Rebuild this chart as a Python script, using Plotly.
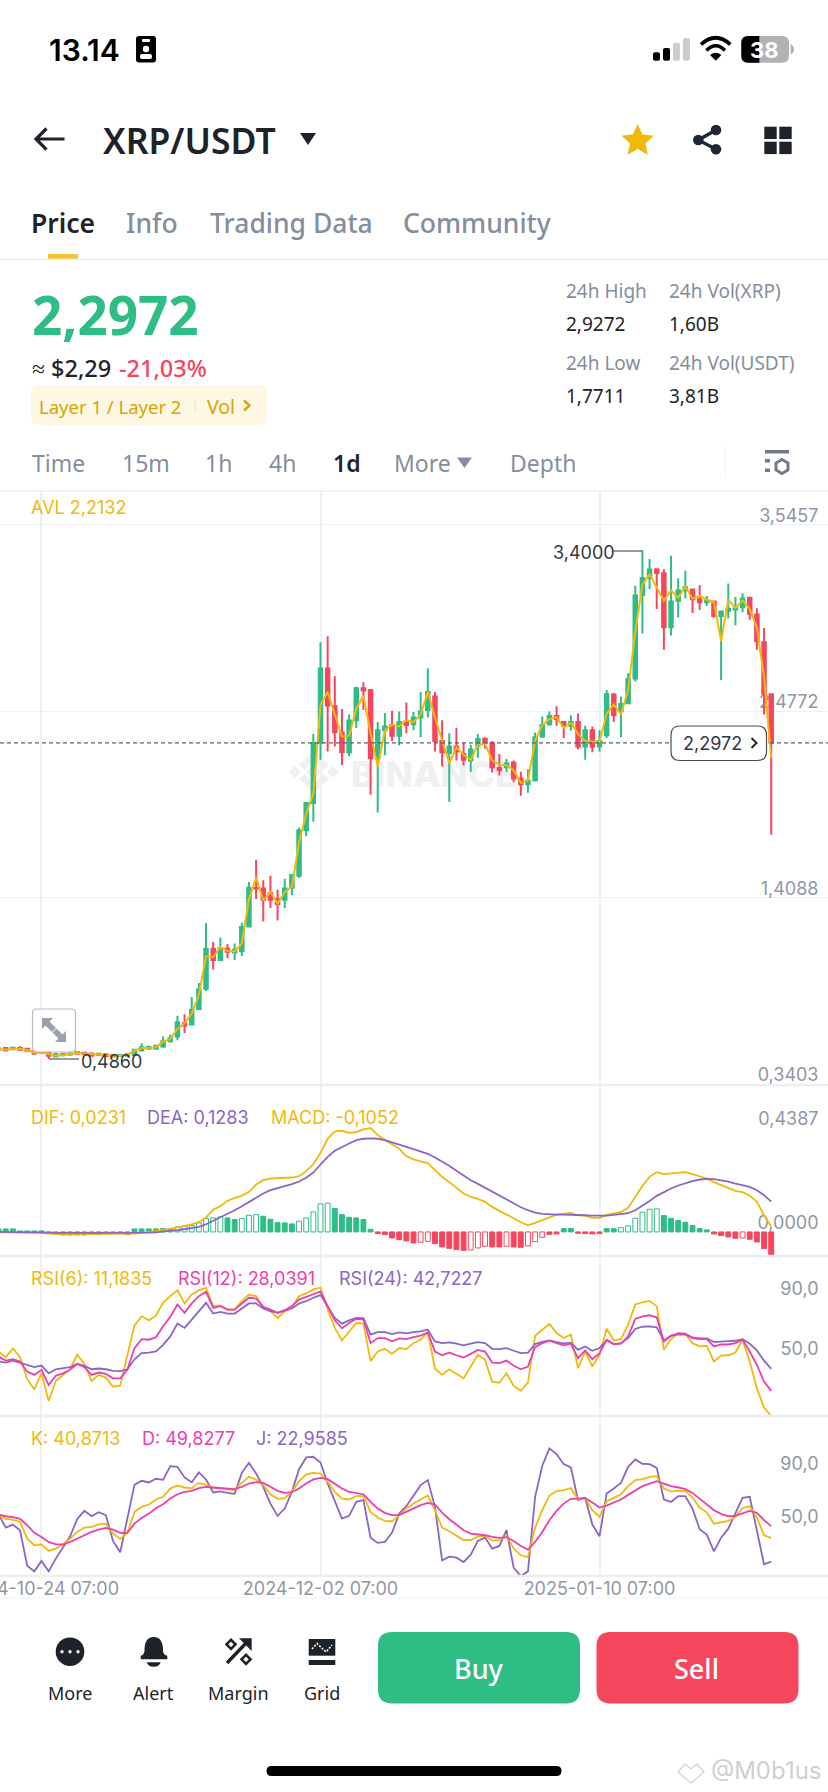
"""XRP/USDT daily chart screen with MACD, RSI and KDJ panels."""
import re

import pandas as pd
import plotly.graph_objects as go
from plotly.subplots import make_subplots

WIDTH = 828
HEIGHT = 1792

GREEN = "#2ebd85"
RED = "#f6465d"
YELLOW = "#f0b90b"
PINK = "#ec3fae"
PURPLE = "#8a66c4"
DARK = "#1e2329"
GREY = "#848e9c"
CHART_GREY = "#8f97a3"
GRID = "#eff0f3"
UI_FONT = "Noto Sans"
CHART_FONT = "Inter"

dates = pd.date_range("2024-10-18 07:00", periods=109, freq="D")
x_range = ["2024-10-18 11:48", "2025-02-11 05:34"]
date_ticks = ["2024-10-24 07:00", "2024-12-02 07:00", "2025-01-10 07:00"]

opens = [
    .5402, .5489, .5424, .5489, .5446, .5338, .5230, .5230, .5014, .5079, .5122, .5252, .5230, .5187, .5101, .5144,
    .5101, .5036, .5058, .5101, .5359, .5446, .5446, .5575, .5876, .6157, .6912, .6847, .7731, .8895, 1.1180, 1.0534,
    1.1180, 1.0965, 1.1030, 1.2453, 1.4673, 1.4630, 1.4372, 1.4026, 1.3983, 1.4673, 1.5363, 1.7972, 1.9524, 2.2974,
    2.7221, 2.5065, 2.3556, 2.2435, 2.4267, 2.6100, 2.5992, 2.2090, 2.3685, 2.3987, 2.3383, 2.4203, 2.4030, 2.4418,
    2.4849, 2.5626, 2.3082, 2.2392, 2.2758, 2.2327, 2.1961, 2.2823, 2.3211, 2.2952, 2.1529, 2.1572, 2.1831, 2.0926,
    2.0602, 2.0818, 2.3340, 2.4030, 2.4505, 2.4160, 2.3944, 2.4160, 2.2758, 2.3685, 2.2758, 2.3405, 2.5734, 2.4806,
    2.5238, 2.6661, 3.1447, 3.2417, 3.2913, 3.2676, 2.9593, 3.1102, 3.1706, 3.1749, 3.1188, 3.1016, 3.1059, 3.0240,
    3.0541, 3.0606, 3.0735, 3.1274, 3.0326, 2.8730, 2.5755,
]
highs = [
    .5511, .5532, .5553, .5597, .5489, .5402, .5338, .5359, .5230, .5230, .5273, .5295, .5273, .5230, .5230, .5187,
    .5144, .5144, .5187, .5446, .5769, .5618, .5683, .6157, .6265, .7342, .7430, .8421, .9219, 1.2647, 1.1569, 1.1827,
    1.1439, 1.1483, 1.2668, 1.4997, 1.6269, 1.5104, 1.5364, 1.4565, 1.5191, 1.5428, 1.8123, 1.9567, 2.3470, 2.8730,
    2.9075, 2.6790, 2.4914, 2.4591, 2.6186, 2.6445, 2.6035, 2.4160, 2.4677, 2.4806, 2.4763, 2.5281, 2.4742, 2.5884,
    2.7243, 2.5884, 2.4267, 2.3513, 2.3836, 2.2974, 2.2866, 2.3470, 2.3297, 2.3082, 2.2327, 2.2047, 2.1961, 2.1314,
    2.1465, 2.3556, 2.4483, 2.4763, 2.5065, 2.4203, 2.4548, 2.4655, 2.3944, 2.3901, 2.3685, 2.5992, 2.5820, 2.5626,
    2.6962, 3.1964, 3.4000, 3.3495, 3.2956, 3.2913, 3.3689, 3.2396, 3.2827, 3.1813, 3.2007, 3.1382, 3.1102, 3.0520,
    3.2094, 3.1318, 3.1533, 3.1318, 3.0671, 2.9550, 2.5777,
]
lows = [
    .5359, .5316, .5381, .5338, .5295, .5101, .5187, .4860, .4950, .5014, .5058, .5101, .5101, .5014, .5058, .4992,
    .4971, .4992, .5014, .5058, .5316, .5402, .5402, .5510, .5790, .5941, .6351, .6782, .7688, .8766, .9995, 1.0512,
    1.0642, 1.0534, 1.0749, 1.2431, 1.4026, 1.2733, 1.3509, 1.2797, 1.3509, 1.4242, 1.5234, 1.7627, 1.8446, 2.2004,
    2.2478, 2.2758, 2.1702, 2.2219, 2.3815, 2.4849, 2.0000, 1.8985, 2.2262, 2.3082, 2.2823, 2.3513, 2.3685, 2.3297,
    2.4418, 2.2478, 2.1616, 1.9589, 2.1961, 2.1680, 2.1314, 2.2111, 2.2650, 2.1270, 2.1098, 2.1314, 2.0710, 1.9934,
    2.0106, 2.0775, 2.3254, 2.3944, 2.3944, 2.3254, 2.3664, 2.2607, 2.2004, 2.2435, 2.2478, 2.3254, 2.4160, 2.3297,
    2.5195, 2.6488, 2.9226, 3.1770, 3.0628, 2.8299, 2.9118, 3.0153, 3.1231, 3.0412, 3.0584, 3.0800, 3.0153, 2.6574,
    3.0089, 2.9701, 3.0455, 3.0024, 2.8299, 2.4591, 1.7711,
]
closes = [
    .5467, .5359, .5511, .5402, .5338, .5187, .5295, .5058, .5144, .5165, .5187, .5187, .5144, .5058, .5165, .5036,
    .5014, .5101, .5144, .5402, .5532, .5553, .5618, .5876, .6049, .6976, .6782, .7666, .8852, 1.1180, 1.0534, 1.1224,
    1.1008, 1.1116, 1.2431, 1.4673, 1.4630, 1.3983, 1.3983, 1.3724, 1.4630, 1.5406, 1.7950, 1.9524, 2.2952, 2.7221,
    2.5108, 2.3578, 2.2435, 2.4246, 2.6100, 2.5971, 2.2090, 2.3685, 2.3901, 2.3383, 2.4160, 2.3987, 2.4418, 2.4763,
    2.5884, 2.3082, 2.2435, 2.2758, 2.2478, 2.2004, 2.2586, 2.3189, 2.2952, 2.1572, 2.1400, 2.1788, 2.0926, 2.0602,
    2.0818, 2.3297, 2.3987, 2.4505, 2.4332, 2.3944, 2.4160, 2.2758, 2.3685, 2.2758, 2.3082, 2.5755, 2.4548, 2.5195,
    2.6617, 3.1404, 3.2417, 3.2891, 3.2697, 2.9593, 3.1059, 3.1706, 3.1878, 3.1188, 3.1016, 3.1102, 3.0240, 3.0498,
    3.0628, 3.0671, 3.1231, 3.0369, 2.8795, 2.5777, 2.2972,
]
# AVL line as drawn over the candles
avl = [
    .5446, .5402, .5446, .5446, .5381, .5230, .5252, .5144, .5058, .5101, .5144, .5208, .5187, .5144, .5122, .5079,
    .5058, .5058, .5101, .5338, .5489, .5489, .5532, .5876, .6006, .6588, .6912, .7451, .8529, 1.0749, 1.0706, 1.1267,
    1.1051, 1.1030, 1.1483, 1.4026, 1.5255, 1.3962, 1.4415, 1.3768, 1.4415, 1.4716, 1.7260, 1.8920, 2.0063, 2.5130,
    2.5884, 2.4591, 2.3340, 2.3383, 2.4914, 2.5669, 2.3513, 2.1616, 2.3685, 2.4009, 2.3923, 2.4267, 2.4160, 2.4591,
    2.5884, 2.4418, 2.3082, 2.1788, 2.2715, 2.2284, 2.2004, 2.2866, 2.2909, 2.1961, 2.1723, 2.1680, 2.1400, 2.0667,
    2.0818, 2.3082, 2.3987, 2.4332, 2.4440, 2.3836, 2.4116, 2.3470, 2.3082, 2.3039, 2.3017, 2.4634, 2.5173, 2.4591,
    2.5992, 2.9334, 3.2029, 3.2633, 3.1878, 3.1102, 3.1706, 3.1274, 3.1921, 3.1231, 3.1382, 3.1167, 3.1016, 2.8795,
    3.1167, 3.0692, 3.1124, 3.0628, 2.9550, 2.6747, 2.2111,
]

dif = [
    -.0014, -.0014, -.0014, -.0028, -.0028, -.0042, -.0042, -.0071, -.0099, -.0099, -.0099, -.0099, -.0099, -.0085,
    -.0085, -.0085, -.0085, -.0085, -.0085, -.0071, -.0042, -.0014, .0014, .0071, .0127, .0197, .0240, .0324, .0423,
    .0606, .0945, .1086, .1312, .1439, .1523, .1693, .2003, .2186, .2257, .2271, .2271, .2299, .2355, .2567, .2849,
    .3342, .3935, .4245, .4273, .4189, .4217, .4330, .4387, .4090, .3879, .3709, .3512, .3202, .3061, .2976, .2906,
    .2610, .2328, .2102, .1862, .1622, .1481, .1397, .1270, .1058, .0889, .0748, .0579, .0409, .0282, .0381, .0494,
    .0635, .0734, .0776, .0804, .0705, .0691, .0592, .0592, .0720, .0790, .0846, .1016, .1481, .1945, .2328, .2525,
    .2441, .2469, .2511, .2525, .2441, .2356, .2257, .2102, .1975, .1848, .1736, .1679, .1538, .1270, .0705, .0231,
]
dea = [
    0, 0, 0, -.0014, -.0014, -.0014, -.0028, -.0028, -.0042, -.0042, -.0056, -.0056, -.0056, -.0056, -.0056, -.0056,
    -.0056, -.0056, -.0056, -.0056, -.0042, -.0028, -.0014, .0028, .0056, .0071, .0113, .0141, .0212, .0324, .0465,
    .0606, .0748, .0917, .1086, .1270, .1453, .1622, .1763, .1862, .1932, .2017, .2130, .2285, .2511, .2849, .3174,
    .3428, .3597, .3738, .3879, .3935, .3949, .3935, .3879, .3794, .3710, .3597, .3498, .3413, .3301, .3146, .2976,
    .2793, .2581, .2384, .2186, .2031, .1862, .1693, .1523, .1354, .1199, .1044, .0917, .0818, .0762, .0734, .0734,
    .0734, .0734, .0734, .0705, .0691, .0677, .0691, .0720, .0748, .0790, .0917, .1100, .1312, .1523, .1693, .1834,
    .1961, .2059, .2144, .2215, .2243, .2229, .2186, .2130, .2045, .1975, .1904, .1763, .1552, .1283,
]
macd = [
    .0127, .0127, .0127, .0042, .0042, .0042, .0042, -.0042, -.0071, -.0127, -.0127, -.0127, -.0127, -.0071, -.0113,
    -.0071, -.0071, -.0071, -.0113, .0127, .0127, .0127, .0127, .0141, .0141, .0212, .0240, .0268, .0381, .0564, .0592,
    .0635, .0592, .0522, .0564, .0705, .0733, .0663, .0536, .0395, .0381, .0339, .0451, .0592, .0846, .1185, .1213,
    .0987, .0733, .0621, .0592, .0522, .0113, -.0071, -.0113, -.0254, -.0324, -.0381, -.0465, -.0437, -.0395, -.0494,
    -.0635, -.0691, -.0748, -.0776, -.0762, -.0677, -.0606, -.0635, -.0635, -.0606, -.0635, -.0649, -.0592, -.0409,
    -.0226, -.0099, -.0085, .0141, .0141, -.0056, -.0071, -.0085, -.0071, .0141, .0141, .0183, .0254, .0578, .0832,
    .0959, .0973, .0691, .0578, .0480, .0409, .0268, .0141, .0085, -.0085, -.0155, -.0212, -.0268, -.0254, -.0310,
    -.0423, -.0705, -.1052,
]

rsi6 = [
    54.4, 50.6, 56.4, 50.6, 36.0, 29.0, 39.8, 21.2, 34.6, 38.7, 42.5, 52.2, 46.1, 34.6, 38.7, 36.9, 30.8, 31.5, 52.2,
    71.9, 78.0, 75.3, 78.5, 87.0, 91.5, 95.5, 86.6, 92.6, 95.5, 97.1, 84.8, 85.2, 82.5, 82.5, 88.1, 92.6, 91.5, 83.6,
    81.4, 76.7, 81.4, 84.1, 91.5, 93.3, 96.0, 97.3, 82.5, 70.2, 61.8, 67.9, 73.5, 73.1, 48.1, 54.4, 56.2, 52.8, 56.7,
    56.0, 60.0, 62.3, 67.2, 43.0, 38.7, 42.5, 39.4, 36.4, 44.3, 52.2, 48.8, 34.2, 33.5, 39.8, 31.3, 28.1, 33.5, 65.0,
    69.0, 72.8, 66.8, 63.4, 65.7, 43.2, 54.4, 44.3, 52.2, 69.7, 61.8, 62.7, 72.4, 85.9, 87.4, 88.3, 84.8, 55.5, 62.7,
    66.8, 66.1, 60.0, 57.8, 58.2, 47.7, 51.7, 51.9, 53.7, 62.3, 47.7, 29.7, 16.9, 11.1835,
]
rsi12 = [
    51.0, 48.3, 49.2, 47.7, 40.9, 38.7, 42.1, 31.9, 38.2, 39.8, 42.1, 46.1, 43.9, 38.7, 40.3, 39.4, 36.4, 36.4, 42.1,
    56.7, 62.7, 62.3, 63.9, 71.3, 77.6, 85.9, 80.3, 86.6, 91.5, 94.4, 83.6, 84.8, 82.5, 82.5, 86.6, 90.4, 89.9, 84.3,
    82.5, 80.3, 82.1, 84.8, 89.2, 91.0, 93.1, 94.6, 84.8, 75.3, 69.9, 73.5, 76.2, 75.8, 60.0, 63.4, 63.4, 61.2, 63.2,
    62.7, 64.1, 65.0, 67.2, 54.4, 51.9, 53.7, 51.9, 50.4, 52.8, 55.5, 54.4, 47.0, 46.6, 48.3, 44.8, 42.5, 44.3, 57.3,
    60.0, 61.6, 60.0, 58.5, 59.6, 49.9, 55.1, 49.2, 53.3, 62.3, 59.4, 59.6, 64.5, 76.2, 78.0, 78.7, 77.3, 61.2, 65.0,
    66.6, 66.3, 63.4, 62.7, 62.7, 57.8, 59.1, 59.1, 60.0, 62.3, 54.4, 45.4, 34.2, 28.0391,
]
rsi24 = [
    47.7, 47.0, 48.3, 47.0, 45.4, 43.9, 45.0, 39.8, 42.5, 43.2, 43.9, 46.1, 44.8, 42.5, 43.0, 42.5, 41.4, 41.2, 42.5,
    49.2, 53.3, 53.7, 54.4, 58.9, 64.5, 73.1, 70.2, 75.8, 81.4, 87.0, 79.8, 80.9, 79.8, 79.8, 83.2, 86.6, 86.6, 83.2,
    81.4, 80.3, 81.8, 83.2, 86.6, 88.1, 90.4, 92.2, 84.8, 76.9, 73.1, 75.3, 76.9, 76.7, 65.7, 67.4, 67.4, 66.1, 67.2,
    66.6, 67.4, 67.9, 69.0, 61.2, 60.0, 60.5, 59.6, 58.5, 59.6, 60.7, 60.0, 56.2, 56.0, 56.7, 54.9, 53.3, 53.7, 59.4,
    60.9, 61.8, 60.7, 59.8, 60.3, 55.5, 57.8, 54.9, 56.7, 61.8, 59.4, 60.0, 63.4, 69.5, 71.0, 71.3, 70.6, 61.8, 65.0,
    65.9, 65.7, 63.9, 63.2, 63.2, 60.7, 61.2, 61.4, 61.6, 62.7, 59.6, 55.1, 48.3, 42.7227,
]

kdj_k = [
    58.1, 55.3, 54.8, 53.0, 40.3, 35.3, 36.0, 31.0, 32.8, 36.0, 40.3, 45.4, 48.7, 49.2, 51.2, 51.7, 44.1, 40.1, 44.7,
    60.6, 64.4, 66.2, 70.0, 72.0, 78.3, 80.6, 79.1, 78.6, 82.6, 81.1, 78.8, 78.3, 77.8, 77.1, 82.6, 87.2, 85.2, 80.9,
    74.0, 70.5, 71.0, 75.8, 83.9, 89.0, 90.2, 89.7, 83.4, 75.8, 70.7, 70.0, 72.5, 72.8, 60.6, 56.3, 53.8, 53.5, 58.1,
    63.1, 66.9, 70.0, 73.0, 61.9, 48.7, 45.9, 42.4, 39.3, 39.3, 41.9, 42.4, 38.8, 39.1, 42.9, 32.8, 27.7, 26.4, 48.7,
    61.9, 73.0, 76.3, 77.1, 78.6, 70.0, 71.2, 61.9, 56.8, 68.7, 71.2, 74.0, 80.1, 84.7, 85.4, 87.2, 87.7, 78.3, 76.1,
    76.6, 76.3, 71.5, 63.9, 60.1, 51.7, 53.0, 53.8, 56.8, 63.6, 64.9, 56.3, 42.9, 40.8713,
]
kdj_d = [
    58.6, 57.3, 56.6, 55.3, 50.5, 44.7, 41.6, 37.8, 36.0, 36.0, 37.8, 40.3, 43.4, 45.4, 47.2, 48.5, 47.2, 44.7, 44.7,
    51.7, 56.0, 59.3, 63.4, 66.4, 70.7, 74.0, 75.8, 76.6, 78.6, 79.6, 79.1, 78.6, 78.3, 77.8, 79.6, 82.1, 83.1, 82.6,
    79.6, 76.6, 75.0, 75.5, 78.3, 82.1, 85.2, 86.4, 85.4, 82.1, 78.3, 75.8, 75.0, 74.0, 68.2, 63.1, 59.9, 58.1, 58.1,
    60.6, 63.1, 65.7, 67.4, 66.2, 60.1, 55.0, 51.0, 46.7, 44.1, 43.4, 42.9, 41.6, 40.9, 41.4, 38.6, 34.8, 32.0, 37.8,
    45.4, 54.3, 61.4, 66.9, 70.5, 70.7, 71.2, 67.7, 63.9, 65.4, 67.4, 70.0, 73.5, 77.1, 80.1, 82.1, 83.9, 82.1, 80.1,
    79.1, 77.8, 75.0, 70.7, 66.4, 61.9, 59.1, 57.3, 57.6, 59.6, 61.4, 59.9, 54.3, 49.8277,
]
kdj_j = [
    58.8, 48.7, 51.0, 46.7, 19.8, 15.5, 23.4, 15.5, 25.2, 34.0, 42.1, 55.3, 61.4, 57.3, 60.3, 58.1, 38.6, 30.0, 54.3,
    81.1, 84.2, 82.9, 85.7, 84.9, 95.3, 94.8, 86.7, 83.1, 90.5, 85.2, 75.3, 76.1, 75.0, 74.3, 90.2, 97.8, 89.7, 79.6,
    66.9, 57.6, 63.1, 75.8, 93.0, 101.9, 102.4, 98.1, 82.1, 68.2, 55.5, 57.6, 68.2, 69.5, 41.1, 37.1, 37.8, 44.9, 59.3,
    64.9, 73.3, 80.9, 84.7, 64.4, 23.9, 26.7, 25.9, 22.6, 28.2, 38.6, 41.1, 32.8, 34.8, 46.7, 18.3, 12.0, 15.5, 72.0,
    95.6, 108.7, 104.4, 96.8, 94.3, 69.5, 71.2, 51.0, 42.1, 74.5, 78.3, 82.6, 94.8, 100.4, 97.1, 96.8, 94.0, 70.0, 68.2,
    72.5, 72.5, 63.1, 47.4, 43.4, 30.7, 41.1, 47.9, 59.3, 71.2, 72.0, 46.7, 20.9, 22.9585,
]

price_ticks = [3.5457, 2.4772, 1.4088, 0.3403]
price_tick_text = ["3,5457", "2,4772", "1,4088", "0,3403"]
macd_ticks = [0.4387, 0.0]
macd_tick_text = ["0,4387", "0,0000"]
osc_ticks = [90, 50]
osc_tick_text = ["90,0", "50,0"]


def px(x):
    return x / WIDTH


def py(y):
    return 1 - y / HEIGHT


def to_paper(path):
    """Turn an SVG path written in screen pixels into paper fractions."""
    return re.sub(
        r"(-?[\d.]+),(-?[\d.]+)",
        lambda m: f"{px(float(m.group(1))):.5f},{py(float(m.group(2))):.5f}",
        path,
    )


def rounded(x0, y0, x1, y1, r):
    return (
        f"M{x0 + r},{y0} L{x1 - r},{y0} Q{x1},{y0} {x1},{y0 + r} L{x1},{y1 - r} Q{x1},{y1} {x1 - r},{y1} "
        f"L{x0 + r},{y1} Q{x0},{y1} {x0},{y1 - r} L{x0},{y0 + r} Q{x0},{y0} {x0 + r},{y0} Z"
    )


fig = make_subplots(rows=4, cols=1, shared_xaxes=True, vertical_spacing=0)

fig.add_trace(go.Candlestick(
    x=dates, open=opens, high=highs, low=lows, close=closes,
    increasing=dict(line=dict(color=GREEN, width=2), fillcolor=GREEN),
    decreasing=dict(line=dict(color=RED, width=2), fillcolor=RED),
    whiskerwidth=0, hoverinfo="skip",
), row=1, col=1)
fig.add_trace(go.Scatter(x=dates, y=avl, mode="lines", line=dict(color=YELLOW, width=2)), row=1, col=1)

bar_edge = [GREEN if v >= 0 else RED for v in macd]
# rising bars are hollow, very short ones just read as solid
bar_fill = [
    "white" if i > 0 and v > macd[i - 1] and abs(v) >= 0.015 else bar_edge[i]
    for i, v in enumerate(macd)
]
fig.add_trace(go.Bar(
    x=dates, y=macd, marker=dict(color=bar_fill, line=dict(color=bar_edge, width=1)),
    hoverinfo="skip",
), row=2, col=1)
fig.add_trace(go.Scatter(x=dates, y=dif, mode="lines", line=dict(color=YELLOW, width=1.8)), row=2, col=1)
fig.add_trace(go.Scatter(x=dates, y=dea, mode="lines", line=dict(color=PURPLE, width=1.8)), row=2, col=1)

for series, color in ((rsi6, YELLOW), (rsi24, PURPLE), (rsi12, PINK)):
    fig.add_trace(go.Scatter(x=dates, y=series, mode="lines", line=dict(color=color, width=1.8)), row=3, col=1)
for series, color in ((kdj_j, PURPLE), (kdj_k, YELLOW), (kdj_d, PINK)):
    fig.add_trace(go.Scatter(x=dates, y=series, mode="lines", line=dict(color=color, width=1.8)), row=4, col=1)

# panel edges in screen pixels
panels = [(491, 1085), (1085, 1256), (1256, 1416), (1416, 1576)]
y_ranges = [[0.3377, 3.7392], [-0.1016, 0.6206], [11.18, 118.4], [12.0, 133.3]]
y_ticks = [
    (price_ticks, price_tick_text), (macd_ticks, macd_tick_text),
    (osc_ticks, osc_tick_text), (osc_ticks, osc_tick_text),
]
for row, ((top, bottom), y_range, (vals, text)) in enumerate(zip(panels, y_ranges, y_ticks), start=1):
    fig.update_yaxes(
        row=row, col=1, domain=[py(bottom), py(top)], range=y_range, side="right",
        tickmode="array", tickvals=vals, ticktext=text,
        ticklabelposition="inside top", ticks="", ticklen=0, ticklabelshift=3, ticklabeloverflow="allow",
        anchor="free", position=821.5 / WIDTH,
        tickfont=dict(family=CHART_FONT, size=18, color=CHART_GREY),
        showgrid=row == 1, gridcolor=GRID, gridwidth=1, zeroline=False, showline=False,
        layer="below traces", fixedrange=True,
    )
    fig.update_xaxes(
        row=row, col=1, range=x_range, type="date", rangeslider_visible=False,
        tickmode="array", tickvals=date_ticks, ticktext=date_ticks, ticklabeloverflow="allow",
        showticklabels=row == 4, ticks="", tickfont=dict(family=CHART_FONT, size=18, color=CHART_GREY),
        showgrid=True, gridcolor=GRID, gridwidth=1.5, zeroline=False, showline=False,
    )

annotations = []
shapes = []


def label(x, y, text, size, color=DARK, anchor="left", weight=400, family=UI_FONT):
    annotations.append(dict(
        xref="paper", yref="paper", x=px(x), y=py(y), text=text, showarrow=False,
        xanchor=anchor, yanchor="middle", borderpad=0,
        font=dict(family=family, size=size, color=color, weight=weight),
    ))


def fill_path(path, color, layer="above"):
    shapes.append(dict(
        type="path", xref="paper", yref="paper", path=to_paper(path),
        fillcolor=color, line=dict(width=0), layer=layer,
    ))


def stroke_path(path, color, width, dash="solid", fill="rgba(0,0,0,0)"):
    shapes.append(dict(
        type="path", xref="paper", yref="paper", path=to_paper(path),
        fillcolor=fill, line=dict(color=color, width=width, dash=dash),
    ))


def hline(y, color, width, x0=0, x1=WIDTH):
    shapes.append(dict(
        type="line", xref="paper", yref="paper", x0=px(x0), x1=px(x1), y0=py(y), y1=py(y),
        line=dict(color=color, width=width),
    ))


def dot(x, y, r, color):
    shapes.append(dict(
        type="circle", xref="paper", yref="paper", x0=px(x - r), x1=px(x + r), y0=py(y - r), y1=py(y + r),
        fillcolor=color, line=dict(width=0),
    ))


def diamond(x, y, r):
    return f"M{x - r},{y} L{x},{y - r} L{x + r},{y} L{x},{y + r} Z"


# status bar
label(48, 50, "13.14", 30, "black", weight=600, family=CHART_FONT)
fill_path(rounded(136, 36, 156, 62.5, 3), "black")
fill_path(rounded(142, 39, 150, 42, 1), "white")
dot(146, 49, 3.2, "white")
fill_path(rounded(140, 54, 152, 59, 2), "white")
for x0, top, color in ((653, 52.3, "black"), (663, 48, "black"), (673, 42.7, "#cccccc"), (683, 38, "#cccccc")):
    fill_path(rounded(x0, top, x0 + 7, 60.7, 2), color)
stroke_path("M701,44.5 Q715.7,31 730.4,44.5", "black", 3.6)
stroke_path("M706.5,50.5 Q715.7,41 724.9,50.5", "black", 3.6)
fill_path("M710,55 Q715.7,50.5 721.4,55 L715.7,60.7 Z", "black")
fill_path(rounded(741.3, 36, 789, 62.7, 7), "#b2b2b2")
fill_path("M748,36 L759.3,36 L759.3,62.7 L748,62.7 Q741.3,62.7 741.3,56 L741.3,42.7 Q741.3,36 748,36 Z", "black")
fill_path("M790.7,44 Q794,46 794,49.3 Q794,52.6 790.7,54.7 Z", "#b2b2b2")
label(764.5, 49.5, "38", 22, "white", "center", 700, CHART_FONT)

# header
stroke_path("M64.5,139 L36,139 M46.5,128.5 L36,139 L46.5,149.5", DARK, 3.2)
label(102, 140, "XRP/USDT", 35.5, DARK, weight=600)
fill_path("M300,133 L316,133 L308,145 Z", DARK)
stroke_path(
    "M637.7,127 L641.6,135.6 L651,136.7 L644,143 L646,152.2 L637.7,147.5 L629.4,152.2 L631.4,143 "
    "L624.4,136.7 L633.8,135.6 Z",
    YELLOW, 2.5, fill=YELLOW,
)
stroke_path("M716,130 L698.3,140 L716,149.3", "#1e2835", 3.4)
for cy, cx in ((130, 716), (140, 698.3), (149.3, 716)):
    dot(cx, cy, 5.3, "#1e2835")
for x0 in (764.3, 779.3):
    for y0 in (126.7, 141.7):
        fill_path(f"M{x0},{y0} L{x0 + 12.4},{y0} L{x0 + 12.4},{y0 + 12.4} L{x0},{y0 + 12.4} Z", DARK)

# tabs
label(30, 223, "Price", 26.5, DARK, weight=600)
label(125, 223, "Info", 26.5, GREY, weight=500)
label(209, 223, "Trading Data", 26.5, GREY, weight=500)
label(402, 223, "Community", 26.5, GREY, weight=500)
fill_path("M48,254 L78,254 L78,259 L48,259 Z", "#f3c536")
hline(259.5, "#eeeff1", 1.5)

# price block
label(31, 314, "2,2972", 53, GREEN, weight=700)
label(31, 368, "≈ $2,29", 23.5, DARK, weight=500)
label(118, 368, "-21,03%", 23.5, RED, weight=500)
fill_path(rounded(31, 385, 267, 425, 8), "#fdf7e3")
label(37.5, 406, "Layer 1 / Layer 2", 18.5, "#d9a306")
fill_path("M194.5,400 L195.5,400 L195.5,412 L194.5,412 Z", "#efe3bb")
label(206, 406, "Vol", 19.5, "#d9a306")
stroke_path("M244,400.5 L249.5,405.5 L244,410.5", "#d9a306", 2.4)

label(565, 291, "24h High", 19, GREY)
label(668, 291, "24h Vol(XRP)", 19, GREY)
label(565, 324, "2,9272", 19, DARK)
label(668, 324, "1,60B", 19, DARK)
label(565, 363, "24h Low", 19, GREY)
label(668, 363, "24h Vol(USDT)", 19, GREY)
label(565, 396, "1,7711", 19, DARK)
label(668, 396, "3,81B", 19, DARK)

# interval row
for x0, name in ((31, "Time"), (121, "15m"), (204, "1h"), (268, "4h"), (393, "More"), (509, "Depth")):
    label(x0, 463, name, 23, GREY)
label(331.5, 463, "1d", 23, DARK, weight=600)
fill_path("M457,457.5 L472,457.5 L464.5,468 Z", GREY)
fill_path("M725.2,446 L726,446 L726,477 L725.2,477 Z", "#eeeff1")
fill_path("M765,450 L789,450 L789,453.5 L765,453.5 Z", "#707a8a")
fill_path("M765,459 L770,459 L770,462.5 L765,462.5 Z", "#707a8a")
fill_path("M765,468.5 L770,468.5 L770,472 L765,472 Z", "#707a8a")
stroke_path("M782,459.5 L788,463 L788,470 L782,473.5 L776,470 L776,463 Z", "#707a8a", 3, fill="white")
hline(491, "#eeeff1", 1.5)

# panel separators
for y in (1085, 1256, 1416, 1576):
    hline(y, "#eeeeee", 2.5)
hline(1598, "#f3f3f3", 1)

# watermark under the candles
wm = "#eef0f2"
for cx, r in ((295, 6), (333, 6), (314, 8)):
    fill_path(diamond(cx, 771.7, r), wm, "below")
fill_path("M314,750 L329,765 L323.5,770 L314,760.5 L304.5,770 L299,765 Z", wm, "below")
fill_path("M314,793.5 L329,778.5 L323.5,773.5 L314,783 L304.5,773.5 L299,778.5 Z", wm, "below")
shapes.append(dict(
    type="rect", xref="paper", yref="paper", x0=px(340), x1=px(528), y0=py(787), y1=py(759),
    line=dict(width=0), fillcolor="rgba(0,0,0,0)", layer="below",
    label=dict(text="BINANCE", font=dict(family=CHART_FONT, size=36, color=wm, weight=800),
               textposition="middle center"),
))

# chart labels
label(30, 507, "AVL 2,2132", 18, YELLOW, family=CHART_FONT)
label(551.5, 552, "3,4000", 18, "#33383f", family=CHART_FONT)
hline(551, "#33383f", 1, 612, 642)
label(79.5, 1061, "0,4860", 18, "#33383f", family=CHART_FONT)
hline(1059, "#33383f", 1, 49, 79)

# last price line and pill
shapes.append(dict(
    type="line", xref="paper", yref="y", x0=0, x1=1, y0=2.2972, y1=2.2972,
    line=dict(color="#5a5f66", width=1.2, dash="4px,3px"),
))
stroke_path(rounded(671, 726, 766.5, 760.5, 9), "#474d57", 1.2, fill="white")
label(681.5, 743.5, "2,2972", 18, "#33383f", family=CHART_FONT)
stroke_path("M751.5,738 L756.5,743 L751.5,748", "#1e2329", 2)

# expand button
stroke_path(rounded(32.5, 1009, 75.5, 1052, 4), "#b7bcc4", 1.2, fill="rgba(255,255,255,0.85)")
fill_path("M42,1018 L53,1018 L49.5,1021.5 L56,1028 L52,1032 L45.5,1025.5 L42,1029 Z", "#9aa1ac")
fill_path("M66,1042 L55,1042 L58.5,1038.5 L52.5,1032.5 L56.5,1028.5 L62.5,1034.5 L66,1031 Z", "#9aa1ac")

# indicator legends
label(30, 1117, "DIF: 0,0231", 18, YELLOW, family=CHART_FONT)
label(145.5, 1117, "DEA: 0,1283", 18, PURPLE, family=CHART_FONT)
label(269.5, 1117, "MACD: -0,1052", 18, YELLOW, family=CHART_FONT)
label(30, 1278, "RSI(6): 11,1835", 18, YELLOW, family=CHART_FONT)
label(177, 1278, "RSI(12): 28,0391", 18, PINK, family=CHART_FONT)
label(337.5, 1278, "RSI(24): 42,7227", 18, PURPLE, family=CHART_FONT)
label(30, 1438, "K: 40,8713", 18, YELLOW, family=CHART_FONT)
label(141, 1438, "D: 49,8277", 18, PINK, family=CHART_FONT)
label(254.5, 1438, "J: 22,9585", 18, PURPLE, family=CHART_FONT)

# bottom bar
dot(70, 1651.7, 14.3, DARK)
for cx in (62, 70, 78):
    dot(cx, 1651.7, 1.7, "white")
fill_path(
    "M140.7,1659.3 L140.7,1655.7 Q144,1655 144.5,1651 L144.5,1649 Q145,1637 153.7,1637 "
    "Q162.5,1637 163,1649 L163,1651 Q163.5,1655 167.3,1655.7 L167.3,1659.3 Z", DARK)
fill_path("M146.7,1662.3 L160.7,1662.3 Q159,1666.8 153.7,1666.8 Q148.4,1666.8 146.7,1662.3 Z", DARK)
stroke_path("M227,1663 L248,1641", DARK, 3.4)
fill_path("M239,1638.3 L251.7,1638.3 L251.7,1651 Z", DARK)
stroke_path(diamond(231, 1644.3, 4.5), DARK, 2.6)
stroke_path(diamond(246, 1659.3, 4.5), DARK, 2.6)
fill_path("M308.7,1639 L335.3,1639 L335.3,1655.7 L308.7,1655.7 Z", DARK)
fill_path("M308.7,1660 L335.3,1660 L335.3,1665 L308.7,1665 Z", DARK)
stroke_path("M312,1649 L317,1643.5 L326,1652 L332,1645", "white", 1.6, dash="2px,1.5px")
label(70, 1693, "More", 18, DARK, "center")
label(153.7, 1693, "Alert", 18, DARK, "center")
label(238, 1693, "Margin", 18, DARK, "center")
label(321.5, 1693, "Grid", 18, DARK, "center")
fill_path(rounded(378, 1632, 580, 1703.5, 14), GREEN)
fill_path(rounded(596.5, 1632, 798.5, 1703.5, 14), RED)
label(479, 1668, "Buy", 27, "white", "center", 500)
label(696.7, 1668, "Sell", 27, "white", "center", 500)
fill_path(rounded(266.5, 1766, 561.5, 1776, 5), "black")

# image credit mark
stroke_path("M678,1772 L691,1783 L704,1772 L697,1764 L691,1769 L685,1764 Z", "#d4d4d4", 1.3)
label(710, 1770, "@M0b1us", 24, "#cfcfcf", family=CHART_FONT)

fig.update_layout(
    width=WIDTH, height=HEIGHT, autosize=False,
    margin=dict(l=0, r=0, t=0, b=0, autoexpand=False),
    paper_bgcolor="white", plot_bgcolor="white",
    showlegend=False, bargap=0.32, boxgap=0.3, hovermode=False,
    annotations=annotations, shapes=shapes,
)

fig.write_html("out.html", post_script="document.body.style.margin='0';", config=dict(displayModeBar=False))
